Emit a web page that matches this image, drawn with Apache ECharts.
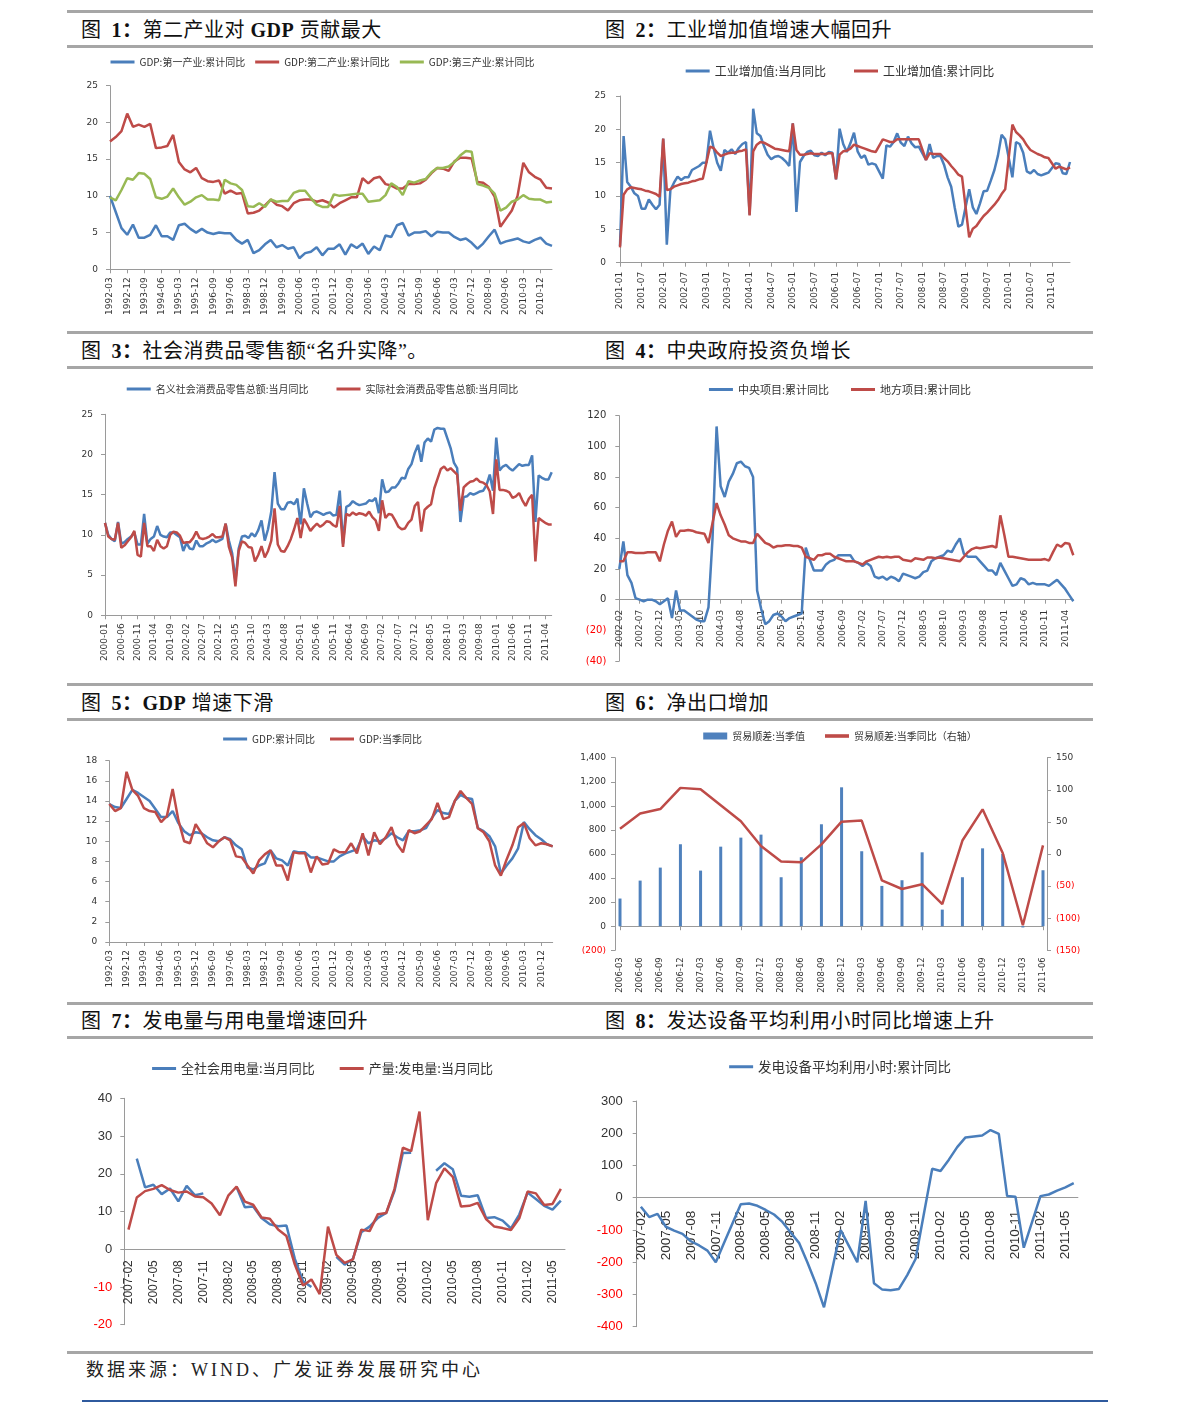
<!DOCTYPE html>
<html>
<head>
<meta charset="utf-8">
<script src="https://cdn.jsdelivr.net/npm/echarts@6/dist/echarts.min.js"></script>
<style>
  body { margin: 0; background: #fff; }
  #page { position: relative; width: 1191px; height: 1403px; }
  .rule { position: absolute; left: 67px; width: 1026px; height: 3px; background: #a6a6a6; }
  .title { position: absolute; font-family: "Liberation Serif", "Noto Sans CJK SC", serif; font-size: 20px; line-height: 20px; color: #111; white-space: nowrap; letter-spacing: 0.5px; }
  .title .tu { margin-right: 10px; }
  .chart { position: absolute; }
  .source { position: absolute; left: 86px; top: 1360px; font-family: "Liberation Serif", "Noto Sans CJK SC", serif; font-size: 18px; line-height: 20px; color: #222; letter-spacing: 3px; }
</style>
</head>
<body>
<div id="page">
  <div class="rule" style="top:10px"></div>
  <div class="rule" style="top:45px"></div>
  <div class="title" style="left:81px;top:20px"><span class="tu">图</span><b>1：</b>第二产业对 <b>GDP</b> 贡献最大</div>
  <div class="title" style="left:605px;top:20px"><span class="tu">图</span><b>2：</b>工业增加值增速大幅回升</div>

  <div class="rule" style="top:331px"></div>
  <div class="rule" style="top:366px"></div>
  <div class="title" style="left:81px;top:341px"><span class="tu">图</span><b>3：</b>社会消费品零售额“名升实降”。</div>
  <div class="title" style="left:605px;top:341px"><span class="tu">图</span><b>4：</b>中央政府投资负增长</div>

  <div class="rule" style="top:683px"></div>
  <div class="rule" style="top:718px"></div>
  <div class="title" style="left:81px;top:693px"><span class="tu">图</span><b>5：</b><b>GDP</b> 增速下滑</div>
  <div class="title" style="left:605px;top:693px"><span class="tu">图</span><b>6：</b>净出口增加</div>

  <div class="rule" style="top:1002px"></div>
  <div class="rule" style="top:1036px"></div>
  <div class="title" style="left:81px;top:1011px"><span class="tu">图</span><b>7：</b>发电量与用电量增速回升</div>
  <div class="title" style="left:605px;top:1011px"><span class="tu">图</span><b>8：</b>发达设备平均利用小时同比增速上升</div>

  <div class="rule" style="top:1351px"></div>
  <div class="source">数据来源：WIND、广发证券发展研究中心</div>
  <div style="position:absolute;left:82px;top:1400px;width:1026px;height:2px;background:#2f5a9e"></div>

  <div id="c1" class="chart" style="left:65px;top:50px;width:515px;height:280px"></div>
  <div id="c2" class="chart" style="left:585px;top:55px;width:510px;height:275px"></div>
  <div id="c3" class="chart" style="left:65px;top:375px;width:515px;height:305px"></div>
  <div id="c4" class="chart" style="left:585px;top:375px;width:510px;height:305px"></div>
  <div id="c5" class="chart" style="left:65px;top:725px;width:515px;height:278px"></div>
  <div id="c6" class="chart" style="left:580px;top:725px;width:520px;height:278px"></div>
  <div id="c7" class="chart" style="left:65px;top:1045px;width:515px;height:305px"></div>
  <div id="c8" class="chart" style="left:585px;top:1045px;width:510px;height:305px"></div>
</div>
<script>
// ---- data ----
// fig 1: GDP by industry, cumulative yoy, quarterly 1992-03 .. 2011-06
var gdpPrimary = [10.0,7.8,5.6,4.7,6.1,4.3,4.3,4.7,6.0,4.5, 4.5,4.0,6.0,6.2,5.5,5.0,5.5,5.0,4.8,5.0,
  4.9,4.9,4.0,3.5,4.0,2.2,2.6,3.4,4.0,3.0, 3.3,2.8,3.0,1.5,2.2,2.4,3.0,1.9,2.8,2.8,
  3.4,2.0,3.4,2.9,3.5,2.1,3.1,2.6,4.6,4.4, 6.0,6.3,4.6,5.0,5.0,5.2,4.5,5.1,5.0,5.0,
  4.4,4.0,4.2,3.6,2.8,3.5,4.5,5.4,3.5,3.8, 4.0,4.2,3.8,3.6,4.0,4.3,3.5,3.2];
var gdpSecondary = [17.4,18.0,18.8,21.2,19.4,19.7,19.4,19.8,16.5,16.6, 16.8,18.3,14.6,13.6,13.2,13.8,12.4,12.0,11.9,12.1,
  10.3,10.7,10.3,10.4,7.6,7.7,8.0,8.7,9.5,8.8, 8.6,8.0,9.0,9.4,9.5,9.5,9.2,9.4,9.1,8.4,
  9.0,9.4,9.8,9.8,12.4,11.7,12.4,12.6,11.6,11.4, 11.0,11.0,11.6,11.6,11.7,12.2,13.1,13.8,13.7,13.4,
  14.7,15.2,15.2,15.1,11.9,11.8,11.2,9.9,5.8,6.9, 8.0,10.0,14.5,13.2,12.6,12.2,11.1,11.0];
var gdpTertiary = [9.8,9.4,10.8,12.4,12.2,13.1,13.0,12.3,9.8,9.6, 9.9,11.0,9.8,8.8,9.2,9.8,10.1,9.5,9.5,9.4,
  12.2,11.7,11.5,10.8,8.6,8.5,9.0,8.5,9.5,9.2, 9.3,9.3,10.4,10.7,10.7,9.7,8.8,8.5,8.5,10.2,
  10.0,10.1,10.2,10.3,10.3,9.2,9.3,9.4,10.1,11.7, 11.2,10.1,12.0,11.8,12.1,12.3,13.2,13.8,13.8,14.0,
  14.6,15.5,16.1,16.0,11.6,11.4,11.1,10.3,8.0,8.4, 9.2,9.5,10.1,9.6,9.5,9.5,9.1,9.2];

// fig 2: industrial value added, monthly 2001-01 .. 2011-06
var ivaMonth = [2.5,19.0,12.1,11.4,10.4,10.0,8.1,8.1,9.5,8.7,8.0,8.7,
  18.6,2.7,10.9,12.0,12.9,12.4,12.8,12.8,13.9,14.2,14.5,15.0,
  15.0,19.8,17.2,15.0,13.8,16.9,16.5,17.0,16.3,17.2,17.8,18.1,
  7.2,23.1,19.4,19.0,17.5,16.2,15.5,15.9,16.0,15.7,15.2,14.5,
  20.9,7.6,15.1,16.0,16.6,16.8,16.1,16.0,16.5,16.1,16.6,16.5,
  12.5,20.1,17.8,16.6,17.9,19.5,16.7,15.7,16.1,14.7,14.9,14.7,
  null,12.6,17.6,17.4,18.1,19.4,18.0,17.5,18.9,17.9,17.3,17.4,
  null,15.4,17.8,15.7,16.0,16.0,14.7,12.8,11.4,8.2,5.4,5.7,
  null,11.0,8.3,7.3,8.9,10.7,10.8,12.3,13.9,16.1,19.2,18.5,
  null,12.8,18.1,17.8,16.5,13.7,13.4,13.9,13.3,13.1,13.3,13.5,
  null,14.9,14.8,13.4,13.3,15.1];
var ivaCum = [2.3,10.2,11.0,11.3,11.2,11.1,11.0,10.8,10.7,10.5,10.3,9.9,
  18.6,10.9,11.0,11.4,11.6,11.8,11.9,12.0,12.2,12.3,12.5,12.6,
  null,17.4,17.2,16.5,16.0,16.2,16.4,16.5,16.5,16.7,16.8,17.0,
  7.1,16.7,17.7,18.1,18.0,17.7,17.4,17.1,17.0,16.9,16.8,16.7,
  20.9,16.9,16.2,16.2,16.3,16.4,16.3,16.3,16.3,16.3,16.4,16.4,
  12.5,16.2,16.7,16.8,17.1,17.7,17.5,17.3,17.1,16.9,16.7,16.6,
  null,18.5,18.3,18.1,18.1,18.5,18.5,18.5,18.5,18.5,18.5,18.5,
  null,15.4,16.4,16.3,16.3,16.3,15.7,15.2,14.5,13.9,13.2,12.9,
  null,3.8,5.1,5.5,6.3,7.0,7.5,8.1,8.7,9.4,10.3,11.0,
  null,20.7,19.6,19.1,18.5,17.6,16.9,16.6,16.3,16.1,15.8,15.7,
  null,14.1,14.4,14.2,14.0,14.3];

// fig 3: retail sales, monthly 2000-01 .. 2011-06
var retailNominal = [11.5,10.0,9.5,9.2,11.6,8.9,9.1,9.5,9.8,10.3, 8.8,8.8,12.6,8.9,9.5,9.8,11.1,10.0,9.8,9.7,
  10.3,10.3,10.0,9.7,8.0,9.0,8.3,8.2,9.3,8.6, 8.6,8.9,9.1,9.4,9.1,9.3,9.5,11.4,9.3,7.7,
  4.3,8.3,9.8,9.9,9.6,10.2,9.8,10.6,11.8,9.3, 10.7,12.9,17.8,13.9,13.2,13.2,14.0,14.1,13.8,14.5,
  11.3,15.8,13.9,12.2,12.8,12.9,12.7,12.5,12.7,12.8, 12.4,12.5,15.5,8.9,13.5,13.7,14.2,13.9,13.7,13.8,
  13.9,14.3,14.2,14.6,12.7,16.9,15.3,15.4,15.9,15.9, 16.4,17.1,17.0,18.2,18.8,20.2,21.2,19.1,21.5,22.0,
  21.6,23.1,23.3,23.2,23.2,22.0,20.8,19.0,18.3,11.6, 14.7,14.8,15.2,15.0,15.2,15.4,15.5,16.2,17.5,15.5,
  22.1,18.0,18.5,18.7,18.3,18.0,18.4,18.8,18.6,18.7, 18.7,19.9,11.6,17.4,17.1,16.9,16.9,17.8];
var retailReal = [11.5,9.8,9.5,9.4,11.5,8.4,8.7,9.2,9.7,10.5, 7.5,7.3,11.5,8.6,8.6,8.0,9.4,8.6,8.3,8.6,
  10.0,10.4,10.3,9.9,9.0,9.1,9.1,9.6,10.4,9.6, 9.5,9.6,9.8,10.1,9.7,9.7,9.8,11.4,8.5,7.2,
  3.6,8.0,9.2,9.0,8.5,8.4,6.7,7.5,8.6,7.2, 8.0,9.3,13.3,8.8,8.0,7.9,8.6,9.5,10.7,12.1,
  9.6,12.0,11.3,10.5,11.0,11.4,11.0,11.3,11.7,11.6, 11.2,11.0,13.6,8.5,12.6,12.4,12.8,12.5,12.7,12.6,
  12.4,12.9,12.2,11.8,10.5,14.3,12.1,12.6,12.5,11.8, 11.0,10.7,10.8,11.5,11.9,13.6,14.1,10.4,13.1,13.5,
  13.8,15.8,17.0,18.2,18.5,18.0,18.3,17.9,17.5,13.0, 15.9,16.3,16.6,16.7,17.0,16.6,16.5,16.2,15.4,12.6,
  19.4,15.6,15.6,15.5,15.3,14.6,14.8,15.2,14.3,13.6, 14.5,15.0,6.7,12.1,11.8,11.5,11.3,11.3];

// fig 4: fixed investment, cumulative yoy, monthly 2002-02 .. 2011-06
var centralProj = [20,38,16,11,1,0,-1,0,0,-1, -3,-1,1,-12,6,-7,-7,-9,-11,-13,
  -14,-14,-5,40,113,74,67,77,82,89, 90,87,86,80,6,-6,-16,-14,-10,-9,
  -11,-14,-12,-11,-10,-9,34,26,19,19, 19,23,25,26,29,29,29,29,25,24,
  22,24,22,15,14,15,13,15,14,12, 17,16,15,14,15,18,19,25,27,28,
  29,32,31,36,40,30,28,28,28,25, 22,19,19,16,24,19,14,9,10,14,
  13,10,11,10,10,10,9,11,13,10, 7,3,-1];
var localProj = [25,25,31,31,30.5,30.5,30.5,31,31,31, 25,36,45,51,41,45,45,45.5,45,44,
  43.5,43,37,50,63,55,49,42,40,39, 38,38,37,37,43,40,37,36,34,35,
  35,35.5,35.5,35,35,34,28,27,26,29, 29,30,30,28,27,26,25,25,25,24,
  23,25,26,27,28,27.5,28,27.5,28,28, 26,25.5,25,27,26.5,26,27.5,27.5,27,27.5,
  27,26.5,26,25.5,25,28,31,33,34,33.5, 34,34.5,35,34,55,42,28,28,27.5,27,
  26.5,26,26,26,26,26.5,25.5,31,36,34.5, 37,36.5,29];

// fig 5: GDP yoy, quarterly 1992-03 .. 2011-06
var gdpCum = [13.7,13.4,13.3,14.2,15.1,14.8,14.4,14.0,13.2,12.4, 12.4,13.0,11.8,11.0,10.6,10.9,10.8,10.4,10.1,10.0,
  10.4,10.2,9.6,9.2,7.4,7.2,7.6,7.8,9.1,8.3, 8.1,7.6,9.0,8.9,8.9,8.4,8.4,8.2,8.0,8.0,
  8.5,8.8,9.0,9.2,10.5,9.8,10.1,10.0,10.3,10.8, 10.4,10.1,11.0,11.0,11.1,11.3,12.3,13.1,12.8,12.7,
  14.0,14.6,14.3,14.2,11.3,11.0,10.5,9.5,6.8,7.6, 8.3,9.3,11.9,11.2,10.6,10.2,9.7,9.5];
var gdpQuarter = [13.7,13.0,13.3,16.9,15.1,14.5,13.3,13.0,12.9,11.9, 12.5,15.2,12.1,10.0,9.8,11.7,10.8,9.8,9.4,10.0,
  10.4,10.1,8.5,8.4,7.6,6.8,8.1,8.7,9.1,7.6, 7.6,6.1,8.9,8.8,8.8,6.9,8.5,7.7,7.8,9.2,
  8.9,8.9,9.8,8.8,10.8,8.6,10.9,9.7,10.4,11.4, 9.7,8.9,11.1,10.8,11.0,11.6,12.2,13.8,12.2,12.4,
  14.0,15.0,14.3,13.7,11.3,10.9,10.0,7.6,6.6,8.2, 9.6,11.4,11.8,10.3,9.6,9.8,9.7,9.5];

// fig 6: trade surplus, quarterly 2006-03 .. 2011-06
var tradeValue = [230,379,487,681,462,661,736,761,407,573,847,1154,623,335,382,614,138,407,647,600,-10,465];
var tradeYoy = [39.5,63,70,103,101,76,51,12.5,-11.5,-13,15,50.4,52,-41,-54.5,-47,-78,21,69.6,1.5,-111,13.5];

// fig 7: electricity, monthly 2007-02 .. 2011-06
var powerUse = [null,24.0,16.4,17.1,14.6,16.1,12.7,16.8,14.3,14.8,
  null,null,null,16.5,11.1,11.3,8.3,6.6,6.1,6.3,
  -2.5,-8.5,-10.0,null,null,-2.0,-4.1,-2.5,4.5,6.0,
  8.3,9.6,15.5,25.5,25.6,null,null,20.8,22.8,21.2,
  14.2,13.9,14.3,8.3,8.5,7.6,5.5,9.2,15.0,13.3,
  11.5,10.5,12.9];
var powerGen = [5.2,13.7,15.4,16.0,17.0,15.7,15.0,15.3,14.0,13.8,
  12.1,9.0,14.2,16.6,12.6,11.8,8.4,8.1,5.2,3.5,
  -4.0,-9.6,-8.0,-11.9,6.0,-1.5,-3.6,-2.7,5.2,4.8,
  9.3,9.6,16.0,26.9,26.0,36.5,7.7,17.5,21.4,19.2,
  11.3,11.5,12.3,8.0,6.0,5.6,5.1,8.2,15.3,14.8,
  11.7,12.0,16.0];

// fig 8: generator utilisation hours, cumulative yoy, monthly 2007-02 .. 2011-06
var genHours = [-28,-60,-50,-90,-102,-112,-135,-148,-164,-200,
  -140,-80,-20,-18,-25,-38,-52,-75,-108,-140,
  -200,-265,-340,-220,-100,-150,-200,-10,-265,-285,
  -287,-283,-240,-190,-50,90,83,118,157,187,
  190,193,210,198,5,3,-155,-75,5,10,
  22,32,45];

// ---- categories ----
function periods(y, m, n, step) {
  var out = [];
  for (var i = 0; i < n; i++) {
    var t = y * 12 + (m - 1) + i * step;
    var mm = t % 12 + 1;
    out.push(Math.floor(t / 12) + '-' + (mm < 10 ? '0' + mm : mm));
  }
  return out;
}
var q1992 = periods(1992, 3, 78, 3);
var m2001 = periods(2001, 1, 126, 1);
var m2000 = periods(2000, 1, 138, 1);
var m2002 = periods(2002, 2, 113, 1);
var q2006 = periods(2006, 3, 22, 3);
var m2007 = periods(2007, 2, 53, 1);

// ---- styling helpers ----
var FONT = '"DejaVu Sans", "Noto Sans CJK SC", sans-serif';
var FONT_B = '"Liberation Sans", "Noto Sans CJK SC", sans-serif';
var CJK = '"Noto Sans CJK SC", sans-serif';
var AX = '#9a9a9a', TXT = '#333', NEG = '#ff0000';
var BLUE = '#4a7ebb', RED = '#be4b48', GREEN = '#98b954';

function line(name, data, color, connect) {
  return { type: 'line', name: name, data: data, symbol: 'none', connectNulls: !!connect,
    lineStyle: { width: 2.5, color: color }, itemStyle: { color: color } };
}
function legend(top, size, gap) {
  return { top: top, left: 'center', padding: 0, icon: 'rect', itemWidth: 24, itemHeight: 3, itemGap: gap,
    textStyle: { fontSize: size, color: TXT, fontFamily: CJK } };
}
function xCat(cats, iv, size, font, margin, gap) {
  return { type: 'category', data: cats, boundaryGap: !!gap,
    axisLine: { lineStyle: { color: AX } },
    axisTick: { interval: iv, length: 4, lineStyle: { color: AX } },
    axisLabel: { interval: iv, rotate: 90, fontSize: size, color: TXT, fontFamily: font, margin: margin } };
}
// category axis drawn across the zero level of a value axis that goes below zero
function xAtZero(ax, min, max, height) {
  ax.axisLine.onZero = false;
  ax.offset = -height * (0 - min) / (max - min);
  return ax;
}
function yVal(min, max, step, size, font, margin, fmt) {
  return { type: 'value', min: min, max: max, interval: step, splitLine: { show: false },
    axisLine: { show: true, lineStyle: { color: AX } },
    axisTick: { show: true, length: 4, lineStyle: { color: AX } },
    axisLabel: { fontSize: size, fontFamily: font, margin: margin, formatter: fmt,
      color: function (v) { return Number(v) < 0 ? NEG : TXT; } } };
}
function paren(v) {
  var s = Math.abs(v).toLocaleString('en-US');
  return v < 0 ? '(' + s + ')' : s;
}
function grid(l, t, w, h) {
  return { left: l, top: t, width: w, height: h, outerBoundsMode: 'none' };
}
function draw(id, opt) {
  opt.animation = false;
  var c = echarts.init(document.getElementById(id));
  c.setOption(opt);
}

// fig 1
draw('c1', {
  legend: legend(7, 10, 10),
  grid: grid(45, 35.7, 442, 183.6),
  xAxis: xCat(q1992, 2, 9, FONT, 8),
  yAxis: yVal(0, 25, 5, 9, FONT, 12),
  series: [line('GDP:第一产业:累计同比', gdpPrimary, BLUE),
           line('GDP:第二产业:累计同比', gdpSecondary, RED),
           line('GDP:第三产业:累计同比', gdpTertiary, GREEN)]
});

// fig 2
draw('c2', {
  legend: legend(10, 12, 28),
  grid: grid(35, 41, 450, 166.7),
  xAxis: xCat(m2001, 5, 9, FONT, 9),
  yAxis: yVal(0, 25, 5, 9, FONT, 14),
  series: [line('工业增加值:当月同比', ivaMonth, BLUE, true),
           line('工业增加值:累计同比', ivaCum, RED, true)]
});

// fig 3
draw('c3', {
  legend: legend(9, 10, 28),
  grid: grid(40, 39.3, 446.7, 201),
  xAxis: xCat(m2000, 4, 9, FONT, 8),
  yAxis: yVal(0, 25, 5, 9, FONT, 12),
  series: [line('名义社会消费品零售总额:当月同比', retailNominal, BLUE),
           line('实际社会消费品零售总额:当月同比', retailReal, RED)]
});

// fig 4
draw('c4', {
  legend: legend(9, 11, 22),
  grid: grid(34.3, 40.7, 454, 245.3),
  xAxis: xAtZero(xCat(m2002, 4, 9, FONT, 10), -40, 120, 245.3),
  yAxis: yVal(-40, 120, 20, 10, FONT, 13, paren),
  series: [line('中央项目:累计同比', centralProj, BLUE),
           line('地方项目:累计同比', localProj, RED)]
});

// fig 5
draw('c5', {
  legend: legend(9, 10, 15),
  grid: grid(44.3, 35.7, 443.4, 181.3),
  xAxis: xCat(q1992, 2, 9, FONT, 8),
  yAxis: yVal(0, 18, 2, 9, FONT, 12),
  series: [line('GDP:累计同比', gdpCum, BLUE),
           line('GDP:当季同比', gdpQuarter, RED)]
});

// fig 6
var x6 = xCat(q2006, 0, 8.5, FONT, 7);
x6.axisLine = { show: false, onZero: false };
x6.axisTick = { show: false };
var y6l = yVal(-200, 1400, 200, 9, FONT, 9, paren);
y6l.offset = 5;
var y6r = yVal(-150, 150, 50, 9, FONT, 9, paren);
y6r.position = 'right';
y6r.offset = 4;
draw('c6', {
  legend: {
    top: 6, left: 'center', padding: 0, itemWidth: 24, itemHeight: 7, itemGap: 20,
    textStyle: { fontSize: 10, color: TXT, fontFamily: CJK },
    data: [{ name: '贸易顺差:当季值', icon: 'rect' },
           { name: '贸易顺差:当季同比（右轴）', icon: 'path://M0,3L10,3L10,4.5L0,4.5Z' }]
  },
  grid: grid(40, 32.7, 423, 192.6),
  xAxis: [x6, {
    type: 'category', data: q2006, boundaryGap: false, position: 'bottom',
    axisLine: { onZero: true, onZeroAxisIndex: 0, lineStyle: { color: AX } },
    axisTick: { length: 4, lineStyle: { color: AX } },
    axisLabel: { show: false }
  }],
  yAxis: [y6l, y6r],
  series: [
    { type: 'bar', name: '贸易顺差:当季值', data: tradeValue, barWidth: 3, clip: false,
      itemStyle: { color: '#4f81bd' } },
    { type: 'line', name: '贸易顺差:当季同比（右轴）', data: tradeYoy, yAxisIndex: 1, symbol: 'none',
      lineStyle: { width: 2.5, color: RED }, itemStyle: { color: RED } }
  ]
});

// fig 7
draw('c7', {
  legend: legend(17, 13, 25),
  grid: grid(59.3, 53.3, 440.7, 226.4),
  xAxis: xAtZero(xCat(m2007, 2, 12, FONT_B, 11, true), -20, 40, 226.4),
  yAxis: yVal(-20, 40, 10, 13, FONT_B, 12),
  series: [line('全社会用电量:当月同比', powerUse, BLUE),
           line('产量:发电量:当月同比', powerGen, RED)]
});

// fig 8
draw('c8', {
  legend: legend(15, 13.5, 25),
  grid: grid(51.7, 56, 441.2, 225.7),
  xAxis: xAtZero(xCat(m2007, 2, 13.5, FONT_B, 13, true), -400, 300, 225.7),
  yAxis: yVal(-400, 300, 100, 13, FONT_B, 14),
  series: [line('发电设备平均利用小时:累计同比', genHours, BLUE)]
});
</script>
</body>
</html>
